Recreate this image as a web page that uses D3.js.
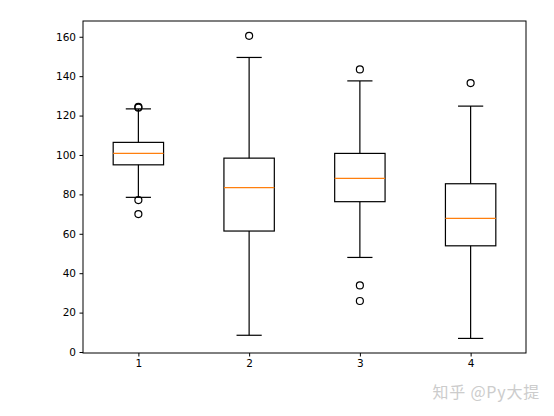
<!DOCTYPE html>
<html><head><meta charset="utf-8">
<script src="https://cdn.jsdelivr.net/npm/d3@7"></script>
<style>html,body{margin:0;padding:0;background:#fff;}</style>
</head><body>
<script>
const categories = ["1", "2", "3", "4"];
const q1Values = [95.0, 61.4, 76.3, 53.9];
const medianValues = [100.8, 83.4, 88.1, 67.8];
const q3Values = [106.4, 98.4, 100.8, 85.4];
const whiskerLow = [78.5, 8.5, 48.0, 6.9];
const whiskerHigh = [123.4, 149.5, 137.6, 124.8];
const outliers = [[124.4, 124.0, 77.1, 70.0], [160.5], [143.4, 33.8, 25.9], [136.5]];
const yTicks = [0, 20, 40, 60, 80, 100, 120, 140, 160];

(function () {
const W = 554, H = 416;
const mLeft = 83, mRight = 526, mTop = 21, mBottom = 353;
const lw = 1.2;

const svg = d3.select("body").append("svg").attr("width", W).attr("height", H);

const x = d3.scaleLinear().domain([0.5, 4.5]).range([mLeft, mRight]);
const y = d3.scaleLinear().domain([-0.5, 168]).range([mBottom, mTop]);
const boxW = 0.455, capW = boxW / 2;

const g = svg.append("g");
categories.forEach((c, i) => {
  const p = i + 1;
  const cx = x(p);
  g.append("line").attr("x1", cx).attr("x2", cx).attr("y1", y(q3Values[i])).attr("y2", y(whiskerHigh[i]))
    .attr("stroke", "#000").attr("stroke-width", lw);
  g.append("line").attr("x1", cx).attr("x2", cx).attr("y1", y(q1Values[i])).attr("y2", y(whiskerLow[i]))
    .attr("stroke", "#000").attr("stroke-width", lw);
  [whiskerHigh[i], whiskerLow[i]].forEach(v => {
    g.append("line").attr("x1", x(p - capW / 2)).attr("x2", x(p + capW / 2)).attr("y1", y(v)).attr("y2", y(v))
      .attr("stroke", "#000").attr("stroke-width", lw);
  });
  g.append("rect").attr("x", x(p - boxW / 2)).attr("width", x(p + boxW / 2) - x(p - boxW / 2))
    .attr("y", y(q3Values[i])).attr("height", y(q1Values[i]) - y(q3Values[i]))
    .attr("fill", "none").attr("stroke", "#000").attr("stroke-width", lw);
  g.append("line").attr("x1", x(p - boxW / 2)).attr("x2", x(p + boxW / 2)).attr("y1", y(medianValues[i])).attr("y2", y(medianValues[i]))
    .attr("stroke", "#ff7f0e").attr("stroke-width", lw);
  outliers[i].forEach(v => {
    g.append("circle").attr("cx", cx).attr("cy", y(v)).attr("r", 3.5)
      .attr("fill", "none").attr("stroke", "#000").attr("stroke-width", lw);
  });
});

const yAxis = d3.axisLeft(y).tickValues(yTicks).tickSize(3.5).tickPadding(3.5).tickFormat(d3.format("d"));
const xAxis = d3.axisBottom(x).tickValues([1, 2, 3, 4]).tickSize(3.5).tickPadding(3.5).tickFormat((d, i) => categories[i]);

const ya = svg.append("g").attr("transform", `translate(${mLeft},0)`).call(yAxis);
const xa = svg.append("g").attr("transform", `translate(0,${mBottom})`).call(xAxis);
[ya, xa].forEach(a => {
  a.select(".domain").remove();
  a.selectAll("text").attr("font-family", "DejaVu Sans").attr("font-size", 10.5).attr("fill", "#000");
  a.selectAll("line").attr("stroke", "#000").attr("stroke-width", 1);
});

svg.append("rect").attr("x", mLeft).attr("y", mTop).attr("width", mRight - mLeft).attr("height", mBottom - mTop)
  .attr("fill", "none").attr("stroke", "#000").attr("stroke-width", 1);

svg.append("text").attr("x", 540).attr("y", 398).attr("text-anchor", "end")
  .attr("font-family", "Noto Sans CJK SC").attr("font-size", 16).attr("letter-spacing", 0.8).attr("fill", "#cccccc")
  .text("知乎 @Py大提");
})();
</script>
</body></html>
